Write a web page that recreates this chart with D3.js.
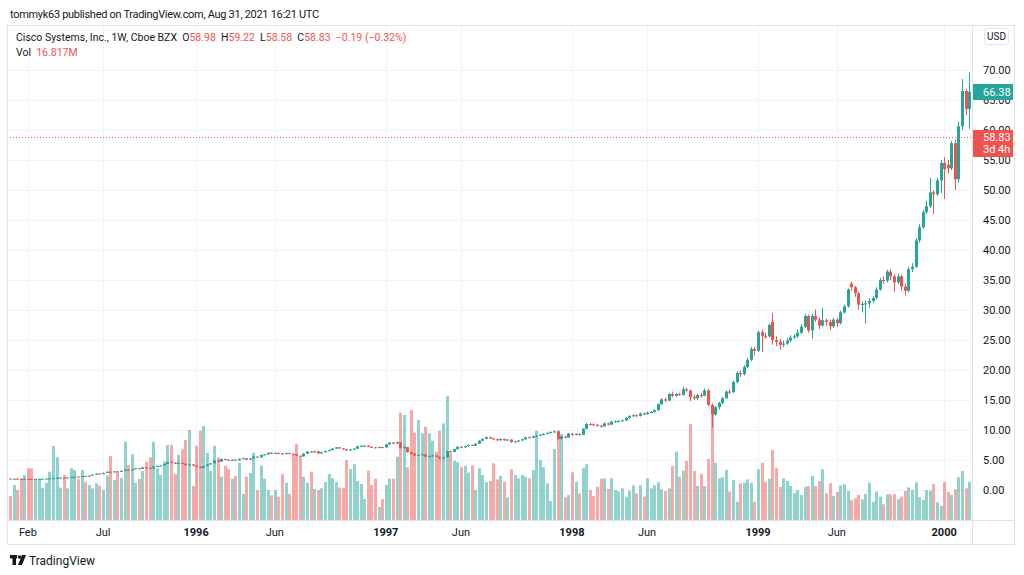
<!DOCTYPE html>
<html>
<head>
<meta charset="utf-8">
<script src="https://cdn.jsdelivr.net/npm/d3@7"></script>
<style>
body { margin: 0; background: #fff; }
svg { display: block; }
text { font-family: Roboto, "Liberation Sans", sans-serif; }
</style>
</head>
<body>
<svg id="chart" width="1024" height="575"></svg>
<script>
// weekly CSCO candles, Jan 1995 - Feb 2000
var openP = [1.90,1.85,1.88,1.84,1.82,1.86,1.83,1.80,1.84,1.86,
1.88,1.90,1.93,2.00,2.05,2.08,2.03,2.08,2.15,2.22,
2.18,2.33,2.28,2.40,2.55,2.72,2.65,2.85,3.05,2.95,
3.10,3.02,3.20,3.40,3.30,3.50,3.62,3.52,3.78,3.70,
3.62,3.90,4.00,4.10,4.35,4.67,4.55,4.40,4.52,4.40,
4.15,4.25,4.05,3.85,3.70,4.00,4.25,4.45,4.90,4.75,
5.17,5.05,4.95,5.05,4.95,5.20,5.30,5.05,5.25,5.56,
5.45,5.83,5.95,6.20,6.10,6.18,6.10,6.00,6.15,6.05,
5.90,5.70,5.60,6.05,6.40,6.25,6.45,6.10,6.30,6.50,
6.65,6.90,7.10,6.95,6.80,6.60,6.75,6.90,7.30,7.35,
7.40,7.20,7.10,7.05,7.15,7.10,7.60,7.90,7.75,7.95,
7.00,7.15,6.30,6.05,5.75,5.85,5.95,5.55,5.65,5.75,
5.55,5.25,5.45,6.45,6.35,6.80,7.20,7.10,7.30,7.50,
7.40,7.70,8.20,8.50,8.80,8.60,8.45,8.30,8.50,8.30,
8.40,8.00,8.10,8.25,8.45,8.80,8.70,8.95,9.05,9.20,
9.35,9.50,9.65,9.75,8.50,8.90,8.75,9.40,9.20,9.35,
9.20,10.20,11.00,10.95,10.85,10.70,10.60,11.10,10.90,11.40,
11.45,11.50,11.60,12.00,12.30,12.45,12.35,12.75,12.65,12.90,
13.00,13.30,14.30,15.10,14.90,16.00,15.70,16.00,15.85,16.80,
16.60,15.50,15.30,15.80,15.70,16.60,14.20,12.60,13.80,14.50,
15.30,16.40,16.30,18.00,19.50,19.30,20.50,21.70,23.50,23.20,
26.30,25.70,25.60,28.00,25.00,24.70,24.20,24.40,24.90,25.40,
25.60,26.20,27.20,29.00,26.60,29.00,28.40,27.40,28.30,28.00,
27.30,28.40,27.80,29.60,30.60,34.40,33.80,32.80,30.90,31.00,
31.10,31.50,32.00,33.40,35.00,34.90,36.40,35.60,34.60,35.60,
33.90,33.20,36.80,37.20,41.60,43.80,46.30,47.30,49.60,49.30,
51.60,54.50,54.20,53.60,57.80,51.80,60.60,66.50,63.50];

var highP = [1.93,1.91,1.90,1.86,1.88,1.88,1.85,1.86,1.88,1.90,
1.93,1.96,2.03,2.09,2.12,2.11,2.11,2.18,2.26,2.25,
2.37,2.38,2.44,2.59,2.76,2.78,2.89,3.10,3.09,3.14,
3.15,3.24,3.45,3.44,3.54,3.67,3.66,3.82,3.83,3.75,
3.95,4.06,4.16,4.40,4.73,4.75,4.60,4.58,4.58,4.44,
4.32,4.30,4.10,3.90,4.05,4.30,4.50,4.96,4.98,5.22,
5.24,5.10,5.12,5.10,5.26,5.38,5.34,5.30,5.62,5.62,
5.90,6.02,6.28,6.26,6.25,6.24,6.15,6.22,6.20,6.10,
5.95,5.76,6.12,6.48,6.46,6.52,6.50,6.38,6.58,6.72,
6.98,7.18,7.15,7.00,6.85,6.82,6.98,7.38,7.45,7.50,
7.45,7.26,7.16,7.22,7.20,7.68,8.00,7.98,8.10,8.00,
7.30,7.20,6.40,6.10,5.95,6.05,6.00,5.75,5.85,5.80,
5.60,5.55,6.55,6.60,6.90,7.30,7.30,7.40,7.60,7.58,
7.80,8.30,8.62,8.92,8.90,8.70,8.55,8.60,8.58,8.52,
8.45,8.22,8.35,8.55,8.90,8.92,9.05,9.20,9.30,9.45,
9.60,9.78,9.95,9.85,9.00,9.00,9.50,9.50,9.45,9.42,
10.30,11.15,11.20,11.10,11.00,10.85,11.25,11.20,11.55,11.60,
11.65,11.75,12.15,12.45,12.60,12.60,12.90,12.90,13.05,13.15,
13.50,14.45,15.30,15.40,16.20,16.40,16.20,16.20,17.20,17.00,
16.70,15.90,16.00,16.20,16.90,16.80,14.40,14.00,14.70,15.50,
16.60,16.80,18.20,19.80,19.90,20.80,22.00,23.80,23.80,26.60,
26.80,26.20,27.80,29.50,25.60,25.20,24.90,25.30,25.80,26.00,
26.80,27.60,29.30,29.20,29.40,30.10,28.80,30.40,28.60,28.40,
28.70,28.70,29.90,30.90,33.60,34.70,34.00,33.00,31.40,31.60,
32.00,32.30,33.80,35.40,35.60,36.70,36.80,35.90,36.10,35.90,
34.40,37.20,37.80,42.00,44.30,46.70,48.20,52.00,50.00,52.00,
55.00,55.50,55.00,58.20,58.40,61.40,68.50,66.80,69.60];

var lowP = [1.83,1.83,1.82,1.79,1.80,1.81,1.77,1.79,1.82,1.84,
1.86,1.88,1.91,1.97,2.02,2.00,2.01,2.06,2.13,2.14,
2.16,2.24,2.26,2.38,2.52,2.60,2.62,2.82,2.90,2.92,
2.97,2.99,3.17,3.24,3.27,3.46,3.46,3.49,3.64,3.55,
3.58,3.85,3.95,4.06,4.30,4.48,4.32,4.35,4.33,4.08,
4.09,3.98,3.78,3.60,3.66,3.95,4.20,4.40,4.68,4.70,
4.98,4.86,4.90,4.88,4.90,5.14,4.98,5.00,5.20,5.38,
5.40,5.78,5.90,6.02,6.04,6.03,5.92,5.95,5.98,5.82,
5.62,5.50,5.55,6.00,6.18,6.20,6.02,6.05,6.25,6.45,
6.60,6.85,6.88,6.72,6.50,6.55,6.70,6.85,7.22,7.28,
7.12,7.02,6.96,7.00,7.02,7.05,7.55,7.66,7.70,6.90,
6.90,6.20,5.90,5.65,5.65,5.78,5.45,5.48,5.58,5.45,
5.15,5.15,5.40,6.25,6.30,6.75,7.00,7.05,7.25,7.30,
7.35,7.65,8.15,8.45,8.50,8.35,8.20,8.20,8.20,8.22,
7.85,7.90,8.02,8.18,8.40,8.60,8.65,8.85,8.98,9.12,
9.28,9.42,9.55,8.35,8.40,8.62,8.70,9.05,9.10,9.05,
9.15,10.10,10.80,10.70,10.55,10.40,10.50,10.75,10.85,11.25,
11.30,11.40,11.50,11.90,12.20,12.20,12.25,12.50,12.55,12.80,
12.90,13.20,14.20,14.70,14.80,15.50,15.55,15.70,15.75,16.30,
14.80,15.00,15.00,15.40,15.60,13.90,10.40,12.40,13.40,14.30,
15.20,16.00,16.20,17.80,18.80,19.10,20.30,21.50,22.40,23.00,
23.00,25.20,25.40,24.20,24.00,23.40,23.80,24.20,24.70,25.20,
25.40,26.00,27.00,26.20,25.20,28.00,26.80,27.20,27.40,26.70,
27.00,27.20,27.60,29.40,30.40,33.20,32.20,30.00,29.60,27.80,
30.40,31.20,31.80,33.20,34.40,34.60,35.00,33.00,34.30,33.30,
32.40,32.90,36.30,37.00,41.20,43.50,46.00,47.00,46.00,49.00,
49.50,48.50,52.80,53.30,50.00,51.20,60.00,62.50,60.20];

var closeP = [1.85,1.88,1.84,1.82,1.86,1.83,1.80,1.84,1.86,1.88,
1.90,1.93,2.00,2.05,2.08,2.03,2.08,2.15,2.22,2.18,
2.33,2.28,2.40,2.55,2.72,2.65,2.85,3.05,2.95,3.10,
3.02,3.20,3.40,3.30,3.50,3.62,3.52,3.78,3.70,3.62,
3.90,4.00,4.10,4.35,4.67,4.55,4.40,4.52,4.40,4.15,
4.25,4.05,3.85,3.70,4.00,4.25,4.45,4.90,4.75,5.17,
5.05,4.95,5.05,4.95,5.20,5.30,5.05,5.25,5.56,5.45,
5.83,5.95,6.20,6.10,6.18,6.10,6.00,6.15,6.05,5.90,
5.70,5.60,6.05,6.40,6.25,6.45,6.10,6.30,6.50,6.65,
6.90,7.10,6.95,6.80,6.60,6.75,6.90,7.30,7.35,7.40,
7.20,7.10,7.05,7.15,7.10,7.60,7.90,7.75,7.95,7.00,
7.15,6.30,6.05,5.75,5.85,5.95,5.55,5.65,5.75,5.55,
5.25,5.45,6.45,6.35,6.80,7.20,7.10,7.30,7.50,7.40,
7.70,8.20,8.50,8.80,8.60,8.45,8.30,8.50,8.30,8.40,
8.00,8.10,8.25,8.45,8.80,8.70,8.95,9.05,9.20,9.35,
9.50,9.65,9.75,8.50,8.90,8.75,9.40,9.20,9.35,9.20,
10.20,11.00,10.95,10.85,10.70,10.60,11.10,10.90,11.40,11.45,
11.50,11.60,12.00,12.30,12.45,12.35,12.75,12.65,12.90,13.00,
13.30,14.30,15.10,14.90,16.00,15.70,16.00,15.85,16.80,16.60,
15.50,15.30,15.80,15.70,16.60,14.20,12.60,13.80,14.50,15.30,
16.40,16.30,18.00,19.50,19.30,20.50,21.70,23.50,23.20,26.30,
25.70,25.60,27.50,25.00,24.70,24.20,24.40,24.90,25.40,25.60,
26.20,27.20,29.00,26.60,29.00,28.40,27.40,28.30,28.00,27.30,
28.40,27.80,29.60,30.60,33.40,33.80,32.80,30.90,31.00,31.10,
31.50,32.00,33.40,35.00,34.90,36.40,35.60,34.60,35.60,33.90,
33.20,36.80,37.20,41.60,43.80,46.30,47.30,49.60,49.30,51.60,
54.50,53.50,53.60,57.80,51.80,60.60,66.50,63.50,66.38];

// volume, millions
var volume = [240,350,300,417,450,517,517,407,407,323,
373,483,740,627,323,450,317,517,500,407,
500,377,350,317,367,343,300,443,640,400,
477,423,783,550,657,373,410,490,583,627,
783,517,450,583,750,750,460,650,707,800,
900,340,743,893,940,673,493,743,627,433,
543,510,413,440,573,260,433,470,673,300,
543,413,300,247,300,233,457,373,260,660,
760,627,433,373,483,310,300,317,380,460,
417,380,323,323,600,510,557,390,360,210,
493,350,413,130,210,350,413,413,633,1073,
1050,527,1100,873,1000,867,933,867,793,683,
893,967,1240,667,593,577,527,540,473,547,
300,517,450,380,390,567,407,440,383,227,
507,450,417,450,433,417,500,893,600,527,
367,190,710,893,860,227,250,477,383,267,
517,557,300,240,333,413,417,310,417,300,
287,317,233,293,347,267,347,233,417,317,
347,377,307,290,317,540,683,433,493,590,
960,490,340,460,340,610,1093,573,417,427,
500,283,400,183,367,373,407,373,183,507,
573,380,413,700,517,330,417,390,340,267,
300,250,330,340,440,340,390,507,267,367,
240,280,347,357,290,200,217,250,207,260,
373,183,283,233,157,257,257,260,207,233,
290,327,300,377,227,200,300,293,360,177,
140,380,280,250,307,427,490,317,383];

var tickLabels = ["Feb","Jul","1996","Jun","1997","Jun","1998","Jun","1999","Jun","2000"];
var tickDates = ["1995-02-06","1995-07-03","1996-01-01","1996-06-03","1997-01-06","1997-06-02",
                 "1998-01-05","1998-06-01","1999-01-04","1999-06-07","2000-01-03"];
var priceTicks = [0,5,10,15,20,25,30,35,40,45,50,55,60,65,70];
var lastPrice = 58.83;
var lastVisibleClose = 66.38;

var upColor = "#26a69a", downColor = "#ef5350";
var gridColor = "#f0f3fa", borderColor = "#e0e3eb", textColor = "#131722";

var svg = d3.select("#chart");
var paneL = 7, paneR = 972, paneT = 25, paneB = 520, frameR = 1014, frameB = 544;

var weeks = d3.timeMonday.range(new Date(1995, 0, 2), new Date(2000, 1, 22));
var fmtDay = d3.timeFormat("%Y-%m-%d");
var idx = d3.range(closeP.length);

var x = d3.scaleBand().domain(idx).range([8.2, 971]);
var step = x.bandwidth();
function cx(i) { return Math.round(x(i) + step / 2); }

var y = d3.scaleLinear().domain([0, 70]).range([490, 70]);
var yv = d3.scaleLinear().domain([0, d3.max(volume)]).range([paneB, 396]);

svg.append("rect").attr("width", 1024).attr("height", 575).attr("fill", "#fff");

svg.append("defs").append("clipPath").attr("id", "pane")
  .append("rect").attr("x", paneL).attr("y", paneT).attr("width", paneR - paneL).attr("height", paneB - paneT);

// grid
var tickIdx = tickDates.map(function(d) {
  return weeks.findIndex(function(w) { return fmtDay(w) === d; });
});
var grid = svg.append("g");
grid.selectAll("line.h").data(priceTicks).enter().append("line")
  .attr("x1", paneL).attr("x2", paneR)
  .attr("y1", function(d) { return Math.round(y(d)) + 0.5; })
  .attr("y2", function(d) { return Math.round(y(d)) + 0.5; })
  .attr("stroke", gridColor);
grid.selectAll("line.v").data(tickIdx).enter().append("line")
  .attr("x1", function(i) { return cx(i) + 0.5; })
  .attr("x2", function(i) { return cx(i) + 0.5; })
  .attr("y1", paneT).attr("y2", paneB)
  .attr("stroke", gridColor);

var plot = svg.append("g").attr("clip-path", "url(#pane)");

// volume
plot.selectAll("rect.vol").data(idx).enter().append("rect")
  .attr("x", function(i) { return cx(i) - 1; })
  .attr("width", 3)
  .attr("y", function(i) { return yv(volume[i]); })
  .attr("height", function(i) { return paneB - yv(volume[i]); })
  .attr("fill", function(i) { return closeP[i] >= openP[i] ? upColor : downColor; })
  .attr("fill-opacity", 0.5);

// candles
var candle = plot.selectAll("g.c").data(idx).enter().append("g");
candle.append("line")
  .attr("x1", function(i) { return cx(i) + 0.5; })
  .attr("x2", function(i) { return cx(i) + 0.5; })
  .attr("y1", function(i) { return y(highP[i]); })
  .attr("y2", function(i) { return y(lowP[i]); })
  .attr("stroke", function(i) { return closeP[i] >= openP[i] ? upColor : downColor; });
candle.append("rect")
  .attr("x", function(i) { return cx(i) - 1; })
  .attr("width", 3)
  .attr("y", function(i) { return y(Math.max(openP[i], closeP[i])); })
  .attr("height", function(i) { return Math.max(1, Math.abs(y(openP[i]) - y(closeP[i]))); })
  .attr("fill", function(i) { return closeP[i] >= openP[i] ? upColor : downColor; });

// last price line
svg.append("line")
  .attr("x1", paneL).attr("x2", paneR)
  .attr("y1", Math.round(y(lastPrice)) + 0.5).attr("y2", Math.round(y(lastPrice)) + 0.5)
  .attr("stroke", downColor).attr("stroke-dasharray", "1,2");

// borders
var frame = svg.append("g").attr("stroke", borderColor).attr("fill", "none");
frame.append("rect").attr("x", paneL + 0.5).attr("y", paneT + 0.5).attr("width", frameR - paneL).attr("height", frameB - paneT);
frame.append("line").attr("x1", paneR + 0.5).attr("x2", paneR + 0.5).attr("y1", paneT).attr("y2", frameB);
frame.append("line").attr("x1", paneL).attr("x2", frameR).attr("y1", paneB + 0.5).attr("y2", paneB + 0.5);

// price axis
var yAxis = svg.append("g").attr("transform", "translate(" + (paneR + 7) + ",0)")
  .call(d3.axisRight(y).tickValues(priceTicks).tickSize(0).tickPadding(4).tickFormat(d3.format(".2f")));
yAxis.select(".domain").remove();
yAxis.selectAll("text").attr("fill", textColor).style("font-size", "11px")
  .style("font-family", "Roboto, 'Liberation Sans', sans-serif");

// time axis
var xAxis = svg.append("g").attr("transform", "translate(0," + paneB + ")")
  .call(d3.axisBottom(x).tickValues(tickIdx).tickSize(0).tickPadding(8)
    .tickFormat(function(d, k) { return tickLabels[k]; }));
xAxis.select(".domain").remove();
xAxis.selectAll("text").attr("fill", textColor).style("font-size", "11px")
  .style("font-family", "Roboto, 'Liberation Sans', sans-serif")
  .style("font-weight", function(d, k) { return /^\d{4}$/.test(tickLabels[k]) ? "bold" : "normal"; });

// price labels on axis
var lab = svg.append("g");
lab.append("rect").attr("x", paneR + 1).attr("y", Math.round(y(lastVisibleClose)) - 8)
  .attr("width", 40).attr("height", 16).attr("fill", upColor);
lab.append("text").attr("x", paneR + 11).attr("y", y(lastVisibleClose) + 4)
  .attr("fill", "#fff").style("font-size", "11px").text(lastVisibleClose.toFixed(2));
lab.append("rect").attr("x", paneR + 1).attr("y", Math.round(y(lastPrice)) - 7)
  .attr("width", 40).attr("height", 27).attr("fill", downColor);
lab.append("text").attr("x", paneR + 11).attr("y", y(lastPrice) + 4)
  .attr("fill", "#fff").style("font-size", "11px").text(lastPrice.toFixed(2));
lab.append("text").attr("x", paneR + 11).attr("y", y(lastPrice) + 16)
  .attr("fill", "#fff").style("font-size", "11px").text("3d 4h");

// USD button
svg.append("rect").attr("x", 984.5).attr("y", 28.5).attr("width", 24).attr("height", 16).attr("rx", 3)
  .attr("fill", "#fff").attr("stroke", borderColor);
svg.append("text").attr("x", 996.5).attr("y", 40).attr("text-anchor", "middle")
  .attr("fill", textColor).style("font-size", "10px").text("USD");

// header + legend
svg.append("text").attr("x", 10).attr("y", 18).attr("fill", textColor)
  .style("font-size", "11px").style("letter-spacing", "-0.3px")
  .text("tommyk63 published on TradingView.com, Aug 31, 2021 16:21 UTC");

var legendParts = [["Cisco Systems, Inc., 1W, Cboe BZX  ", textColor], ["O", textColor], ["58.98  ", downColor],
  ["H", textColor], ["59.22  ", downColor], ["L", textColor], ["58.58  ", downColor],
  ["C", textColor], ["58.83  ", downColor], ["\u22120.19 (\u22120.32%)", downColor]];
var legend = svg.append("text").attr("x", 16).attr("y", 41).style("font-size", "10.5px")
  .style("white-space", "pre");
legend.selectAll("tspan").data(legendParts).enter().append("tspan")
  .attr("fill", function(d) { return d[1]; }).text(function(d) { return d[0]; });

var vol = svg.append("text").attr("x", 16).attr("y", 56).style("font-size", "10.5px").style("white-space", "pre");
vol.append("tspan").attr("fill", textColor).text("Vol  ");
vol.append("tspan").attr("fill", downColor).text("16.817M");

// TradingView mark
var logo = svg.append("g").attr("fill", textColor);
logo.append("rect").attr("x", 10).attr("y", 555).attr("width", 7).attr("height", 3.5);
logo.append("rect").attr("x", 12.5).attr("y", 555).attr("width", 3.5).attr("height", 10);
logo.append("circle").attr("cx", 19.5).attr("cy", 557).attr("r", 1.8);
logo.append("path").attr("d", "M18,565 L22,555 L26,555 L22,565 Z");
svg.append("text").attr("x", 29).attr("y", 564.5).attr("fill", textColor)
  .style("font-size", "12px").text("TradingView");
</script>
</body>
</html>
